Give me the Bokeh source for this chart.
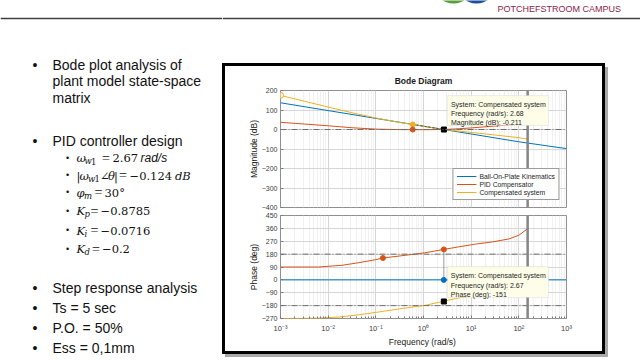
from bokeh.plotting import figure
from bokeh.models import (Range1d, FixedTicker, CustomJSTickFormatter, Span, Label, BoxAnnotation,
                          Legend, LegendItem, Div, ColumnDataSource)
from bokeh.layouts import row, column
from bokeh.embed import file_html
from bokeh.resources import INLINE
from bokeh.core.properties import value

BLUE = "#0072BD"
ORANGE = "#D95319"
YELLOW = "#EDB120"
SANS = "Liberation Sans"
SERIF = "DejaVu Serif"
SERIF2 = "Liberation Serif"

# ---------------- data ----------------
series_names = ["Ball-On-Plate Kinematics", "PID Compensator", "Compensated system"]

freq_plant = [0.001, 0.01, 0.1, 1, 10, 100, 1000]
mag_plant = [137, 97, 57, 17, -23, -63, -98]
phase_plant = [0, 0, 0, 0, 0, 0, 0]

freq_pid_mag = [0.001, 0.00316, 0.01, 0.0316, 0.1, 0.316, 1, 2.68, 5.6, 10, 31.6, 100, 153]
mag_pid = [37, 28, 19, 9, 2, -0.5, -1, 0, 4, 8, 18, 27, 30]

freq_comp_mag = [0.001, 0.00316, 0.01, 0.0316, 0.1, 0.316, 0.594, 1, 2.68, 10, 31.6, 100, 153]
mag_comp = [175, 145, 115, 86, 59, 36, 26, 16, -0.2, -15, -28, -42, -50]

freq_phase = [0.001, 0.0063, 0.0195, 0.0437, 0.098, 0.141, 0.355, 1.05, 2.69, 5.5, 12.3, 27.5, 61.7, 100, 153]
phase_pid = [90, 90, 102, 120, 141, 153, 169, 189, 213, 231, 250, 265, 286, 312, 358]
phase_comp = [-270, -268, -258, -244, -228, -220, -200, -179, -149, -126, -110, -95, -74, -48, -2]

nyquist_freq = [153]
mag_ref = [0]
phase_ref = [180, -180]

# stability-margin markers
gm_freq = [0.594]
gm_comp_mag = [26]
gm_pid_mag = [0]
pm_freq = [0.141]
pm_pid_phase = [153]

# data tips
dt_mag_freq, dt_mag_val = 2.68, -0.211
dt_ph_freq, dt_ph_val = 2.67, -151
dt_ph_pid, dt_ph_plant = 213, 0
dt_mag_lines = ["System: Compensated system", "Frequency (rad/s): 2.68", "Magnitude (dB): -0.211"]
dt_ph_lines = ["System: Compensated system", "Frequency (rad/s): 2.67", "Phase (deg): -151"]

decades = [1e-3, 1e-2, 1e-1, 1, 10, 100, 1000]
mag_ticks = [-400, -300, -200, -100, 0, 100, 200]
phase_ticks = [-270, -180, -90, 0, 90, 180, 270, 360, 450]
minor_x = [k * d for d in decades[:-1] for k in range(2, 10)]

# slide text
main_lines = ["Bode plot analysis of", "plant model state-space", "matrix",
              "PID controller design", "Step response analysis", "Ts = 5 sec",
              "P.O. = 50%", "Ess = 0,1mm"]
main_base = [64, 80.5, 97, 140, 287, 307, 327.5, 347.5]
main_bullet = [True, False, False, True, True, True, True, True]

# math lines: (x, text, kind)  i=italic serif, n=upright serif, e=equals sign, s=italic sans, b*=subscript
math_lines = [
    [(76, "ω", "i"), (84, "w", "bi"), (90.5, "1", "bn"), (101.5, "=", "e"), (112, "2.67", "n"), (140, "rad/s", "s")],
    [(76, "|", "n"), (79, "ω", "i"), (87.5, "w", "bi"), (94, "1", "bn"), (99.5, "∠", "n"), (107.5, "θ", "i"),
     (113.5, "|", "n"), (118.5, "=", "e"), (129, "−0.124", "n"), (174.5, "dB", "i")],
    [(76, "φ", "i"), (83.5, "m", "bi"), (94, "=", "e"), (104, "30°", "n")],
    [(76, "K", "i"), (84, "p", "bi"), (90, "=", "e"), (100, "−0.8785", "n")],
    [(76, "K", "i"), (84, "i", "bi"), (90, "=", "e"), (100, "−0.0716", "n")],
    [(76, "K", "i"), (84, "d", "bi"), (91.5, "=", "e"), (101.5, "−0.2", "n")],
]
math_base = [157.5, 175, 192, 210.5, 230, 248.5]

# ---------------- left slide text ----------------
left = figure(width=222, height=360, x_range=Range1d(0, 222), y_range=Range1d(360, 0),
              min_border=0, toolbar_location=None, output_backend="svg")
left.axis.visible = False
left.grid.visible = False
left.outline_line_color = None
left.line([0, 222], [18, 18], line_color="#404040", line_width=1.6)

cols = dict(x=[], y=[], text=[], font=[], style=[], size=[])


def add(x, y, t, font, style, size):
    cols["x"].append(x); cols["y"].append(y); cols["text"].append(t)
    cols["font"].append(font); cols["style"].append(style); cols["size"].append(size)


for t, yb, b in zip(main_lines, main_base, main_bullet):
    add(52, yb, t, SANS, "normal", "14px")
    if b:
        add(32, yb, "•", SANS, "normal", "14px")
for segs, yb in zip(math_lines, math_base):
    add(65.5, yb - 0.5, "•", SANS, "normal", "9px")
    for x, t, k in segs:
        if k.startswith("b"):
            add(x, yb + 3, t, SERIF, "italic" if k == "bi" else "normal", "8.5px")
        elif k == "e":
            add(x, yb, t, SERIF2, "normal", "14px")
        elif k == "s":
            add(x, yb, t, SANS, "italic", "12px")
        else:
            add(x, yb, t, SERIF, "italic" if k == "i" else "normal", "11.5px")
left.text(x="x", y="y", text="text", text_font="font", text_font_style="style",
          text_font_size="size", text_color="#111111", text_baseline="alphabetic",
          text_align="left", source=ColumnDataSource(cols))

# ---------------- header (right part) ----------------
hdr = figure(width=418, height=63, x_range=Range1d(222, 640), y_range=Range1d(63, 0),
             min_border=0, toolbar_location=None, output_backend="svg")
hdr.axis.visible = False
hdr.grid.visible = False
hdr.outline_line_color = None
hdr.line([222, 640], [18, 18], line_color="#404040", line_width=1.6)
hdr.circle(x=[453], y=[-17], radius=20, fill_color="#5a9e3c", line_color=None)
hdr.circle(x=[476], y=[-17], radius=20, fill_color="#1f4f9a", line_color=None)
hdr.text(x=[497], y=[8], text=["POTCHEFSTROOM CAMPUS"], text_font=value(SANS),
         text_font_size="9px", text_color="#8c2346", text_baseline="alphabetic")


def style_axes(p):
    p.outline_line_color = "#8f8f8f"
    p.background_fill_color = "white"
    p.border_fill_color = "white"
    for ax in p.axis:
        ax.axis_line_color = None
        ax.major_tick_in = 3
        ax.major_tick_out = 0
        ax.minor_tick_in = 2
        ax.minor_tick_out = 0
        ax.major_tick_line_color = "#7a7a7a"
        ax.minor_tick_line_color = "#7a7a7a"
        ax.major_label_text_font = SANS
        ax.major_label_text_font_size = "7px"
        ax.major_label_text_color = "#3c3c3c"
        ax.axis_label_text_font = SANS
        ax.axis_label_text_font_size = "8.5px"
        ax.axis_label_text_font_style = "normal"
        ax.axis_label_text_color = "#202020"
    p.yaxis.minor_tick_line_color = None
    xt = FixedTicker(ticks=decades, minor_ticks=minor_x)
    p.xaxis.ticker = xt
    p.xgrid.ticker = xt
    p.xgrid.grid_line_color = "#d6d6d6"
    p.ygrid.grid_line_color = "#d6d6d6"
    p.xgrid.minor_grid_line_color = "#e2e2e2"
    p.xgrid.minor_grid_line_dash = "1 1"


def datatip(p, fx, fy, lines, box):
    left_f, right_f, top_v, bot_v = box
    p.add_layout(BoxAnnotation(left=left_f, right=right_f, top=top_v, bottom=bot_v,
                               fill_color="#fdfde8", fill_alpha=1, line_color="#c8c8c8",
                               line_width=1, level="annotation"))
    for i, t in enumerate(lines):
        p.add_layout(Label(x=fx, y=fy, x_offset=7, y_offset=25.5 - 9.3 * i, text=t,
                           text_font=SANS, text_font_size="7px", text_color="#262626",
                           text_align="left", text_baseline="alphabetic"))


xr = Range1d(1e-3, 1e3)

# ---------------- magnitude ----------------
mag = figure(width=377, height=145, x_axis_type="log", x_range=xr, y_range=Range1d(-400, 200),
             min_border_left=55, min_border_right=36, min_border_top=24, min_border_bottom=4,
             toolbar_location=None, output_backend="svg", title="Bode Diagram")
style_axes(mag)
mag.title.align = "center"
mag.title.text_font = SANS
mag.title.text_font_size = "8.5px"
mag.title.text_font_style = "bold"
mag.title.text_color = "#1a1a1a"
mag.title.standoff = 9
mag.xaxis.visible = False
mt = FixedTicker(ticks=mag_ticks)
mag.yaxis.ticker = mt
mag.ygrid.ticker = mt
mag.yaxis.axis_label = "Magnitude (dB)"
mag.yaxis.major_label_standoff = 3
mag.yaxis.axis_label_standoff = 0

r1 = mag.line(freq_plant, mag_plant, line_color=BLUE, line_width=1)
r2 = mag.line(freq_pid_mag, mag_pid, line_color=ORANGE, line_width=1)
r3 = mag.line(freq_comp_mag, mag_comp, line_color=YELLOW, line_width=1)
for v in mag_ref:
    mag.add_layout(Span(location=v, dimension="width", line_color="#6e6e6e",
                        line_dash="6 2 1 2", line_width=1))
mag.add_layout(Span(location=nyquist_freq[0], dimension="height", line_color="#858585", line_width=2.5))
mag.line([gm_freq[0], dt_mag_freq], [gm_comp_mag[0], dt_mag_val], line_color="#505050",
         line_dash="2 2", line_width=1)
mag.segment(x0=gm_freq, y0=gm_pid_mag, x1=gm_freq, y1=gm_comp_mag, line_color="#9a9a9a")
mag.scatter(gm_freq, gm_comp_mag, marker="circle", size=5, fill_color=YELLOW, line_color=YELLOW)
mag.scatter(gm_freq, gm_pid_mag, marker="circle", size=5, fill_color=ORANGE, line_color=ORANGE)
mag.scatter([freq_comp_mag[0]], [mag_comp[0]], marker="circle", size=6, fill_color="#fff6dc",
            line_color=YELLOW, line_width=1)
mag.scatter([dt_mag_freq], [dt_mag_val], marker="square", size=5, fill_color="black", line_color="black")

legend = Legend(items=[LegendItem(label=series_names[0], renderers=[r1]),
                       LegendItem(label=series_names[1], renderers=[r2]),
                       LegendItem(label=series_names[2], renderers=[r3])],
                location="bottom_right", margin=7, padding=3, spacing=0,
                glyph_width=20, glyph_height=8, label_height=8, label_standoff=3,
                label_text_font=SANS, label_text_font_size="6.8px", label_text_color="#262626",
                border_line_color="#3a3a3a", border_line_width=0.8,
                background_fill_color="white", background_fill_alpha=1)
mag.add_layout(legend)
datatip(mag, dt_mag_freq, dt_mag_val, dt_mag_lines, (3.18, 420, 174, 20.5))

# ---------------- phase ----------------
ph = figure(width=377, height=140, x_axis_type="log", x_range=xr, y_range=Range1d(-270, 450),
            min_border_left=55, min_border_right=36, min_border_top=4, min_border_bottom=33,
            toolbar_location=None, output_backend="svg")
style_axes(ph)
pt = FixedTicker(ticks=phase_ticks)
ph.yaxis.ticker = pt
ph.ygrid.ticker = pt
ph.yaxis.axis_label = "Phase (deg)"
ph.yaxis.major_label_standoff = 3
ph.yaxis.axis_label_standoff = 0
ph.xaxis.axis_label = "Frequency  (rad/s)"
ph.xaxis.major_label_standoff = 5
ph.xaxis.axis_label_standoff = 1
ph.xaxis.major_label_text_font_size = "7.5px"
ph.xaxis.formatter = CustomJSTickFormatter(code="""
const e = Math.round(Math.log(tick) / Math.LN10);
const m = {"-": "\\u207b", "0": "\\u2070", "1": "\\u00b9", "2": "\\u00b2", "3": "\\u00b3"};
let s = "";
for (const c of String(e)) { s += m[c]; }
return "10" + s;
""")

ph.line(freq_plant, phase_plant, line_color=BLUE, line_width=1)
ph.line(freq_phase, phase_pid, line_color=ORANGE, line_width=1)
ph.line(freq_phase, phase_comp, line_color=YELLOW, line_width=1)
for v in phase_ref:
    ph.add_layout(Span(location=v, dimension="width", line_color="#6e6e6e",
                       line_dash="6 2 1 2", line_width=1))
ph.add_layout(Span(location=nyquist_freq[0], dimension="height", line_color="#858585", line_width=2.5))
ph.segment(x0=[dt_ph_freq], y0=[dt_ph_plant], x1=[dt_ph_freq], y1=[dt_ph_pid], line_color="#9a9a9a")
ph.scatter(pm_freq, pm_pid_phase, marker="circle", size=5, fill_color=ORANGE, line_color=ORANGE)
ph.scatter([dt_ph_freq], [dt_ph_pid], marker="circle", size=5, fill_color=ORANGE, line_color=ORANGE)
ph.scatter([dt_ph_freq], [dt_ph_plant], marker="circle", size=5, fill_color=BLUE, line_color=BLUE)
ph.scatter([dt_ph_freq], [dt_ph_val], marker="square", size=5, fill_color="black", line_color="black")
datatip(ph, dt_ph_freq, dt_ph_val, dt_ph_lines, (3.18, 420, 93, -124))

# ---------------- frame around the MATLAB figure ----------------
def block(w, h, styles):
    return Div(text="", width=w, height=h, margin=0, styles=styles)


black = {"background-color": "#000000"}
panel = row(
    block(3, 291, black),
    column(block(377, 3, black), mag, ph, block(377, 3, black), spacing=0),
    block(3, 291, black),
    block(3, 291, {"background-image": "linear-gradient(to bottom, #ffffff 0px, #ffffff 4px, #a9a9a9 4px)"}),
    block(32, 291, {"background-color": "#ffffff"}),
    spacing=0,
)
bottom = block(418, 6, {"background-image": "linear-gradient(to right, #ffffff 3px, #a9a9a9 3px, #a9a9a9 386px, #ffffff 386px)",
                        "background-size": "100% 3px", "background-repeat": "no-repeat"})
right = column(hdr, panel, bottom, spacing=0)
layout = row(left, right, spacing=0)

open("out.html", "w").write(file_html(layout, INLINE))
